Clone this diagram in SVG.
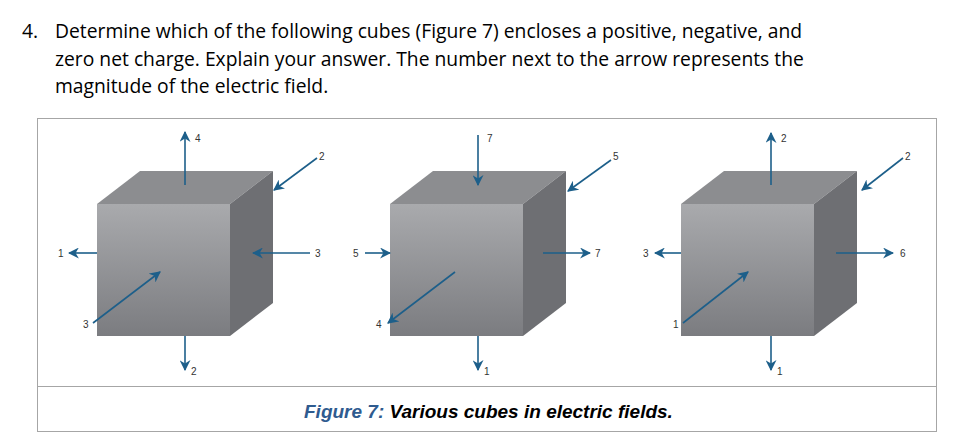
<svg xmlns="http://www.w3.org/2000/svg" width="963" height="448" viewBox="0 0 963 448">
<style>
.q{font-family:"Open Sans","Noto Sans",sans-serif;font-size:19.3px;fill:#000}
.n{font-family:"Liberation Sans",sans-serif;font-size:10px;fill:#333}
.a{stroke:#1d5f8a;stroke-width:1.6;fill:none;marker-end:url(#h)}
.c{font-family:"Liberation Sans",sans-serif;font-size:19px;font-style:italic;font-weight:bold}
</style>
<defs>
<marker id="h" viewBox="0 0 10 10" refX="9" refY="5" markerWidth="11" markerHeight="11" orient="auto" markerUnits="userSpaceOnUse"><path d="M0,0 L10,5 L0,10 L3,5 Z" fill="#1d5f8a"/></marker>
<linearGradient id="f" x1="0" y1="0" x2="0" y2="1"><stop offset="0" stop-color="#a9aaad"/><stop offset="1" stop-color="#7b7c80"/></linearGradient>
<g id="cube"><path d="M0,0 L43,-33 L176,-33 L133,0 Z" fill="#8c8d90"/><path d="M133,0 L176,-33 L176,99 L133,132 Z" fill="#6e6f73"/><rect width="133" height="132" fill="url(#f)"/></g>
</defs>
<rect width="963" height="448" fill="#fff"/>
<text class="q" x="22" y="38">4.</text>
<text class="q" x="55" y="38">Determine which of the following cubes (Figure 7) encloses a positive, negative, and</text>
<text class="q" x="55" y="66">zero net charge. Explain your answer. The number next to the arrow represents the</text>
<text class="q" x="55" y="93">magnitude of the electric field.</text>
<rect x="37.5" y="118.5" width="899" height="313" fill="none" stroke="#a6a6a6"/>
<line x1="37.5" y1="386.5" x2="936.5" y2="386.5" stroke="#a6a6a6"/>
<text class="c" x="304" y="418"><tspan fill="#2f5b8f">Figure 7:</tspan><tspan fill="#000"> Various cubes in electric fields.</tspan></text>
<g id="cube1"><use href="#cube" x="97" y="204"/></g>
<g id="cube2"><use href="#cube" x="390" y="204"/></g>
<g id="cube3"><use href="#cube" x="681" y="204"/></g>
<g id="connectors">
<path class="a" d="M185,185 V132"/><path class="a" d="M317,158 L274,190"/><path class="a" d="M97,253 H69"/><path class="a" d="M310,253 H253"/><path class="a" d="M93,323 L160,272"/><path class="a" d="M185,336 V370"/>
<path class="a" d="M478,135 V185"/><path class="a" d="M611,160 L568,191"/><path class="a" d="M365,253 H390"/><path class="a" d="M543,253 H590"/><path class="a" d="M455,272 L388,323"/><path class="a" d="M478,336 V370"/>
<path class="a" d="M771,185 V133"/><path class="a" d="M903,158 L862,190"/><path class="a" d="M681,253 H655"/><path class="a" d="M836,253 H893"/><path class="a" d="M683,323 L748,272"/><path class="a" d="M771,336 V370"/>
</g>
<g id="labels">
<text class="n" x="195" y="142">4</text><text class="n" x="319" y="160">2</text><text class="n" x="58" y="257">1</text><text class="n" x="315" y="257">3</text><text class="n" x="83" y="328">3</text><text class="n" x="191" y="375">2</text>
<text class="n" x="487" y="142">7</text><text class="n" x="613" y="160">5</text><text class="n" x="353" y="257">5</text><text class="n" x="595" y="257">7</text><text class="n" x="376" y="328">4</text><text class="n" x="484" y="375">1</text>
<text class="n" x="781" y="142">2</text><text class="n" x="905" y="160">2</text><text class="n" x="643" y="257">3</text><text class="n" x="900" y="257">6</text><text class="n" x="673" y="328">1</text><text class="n" x="777" y="375">1</text>
</g>
</svg>
